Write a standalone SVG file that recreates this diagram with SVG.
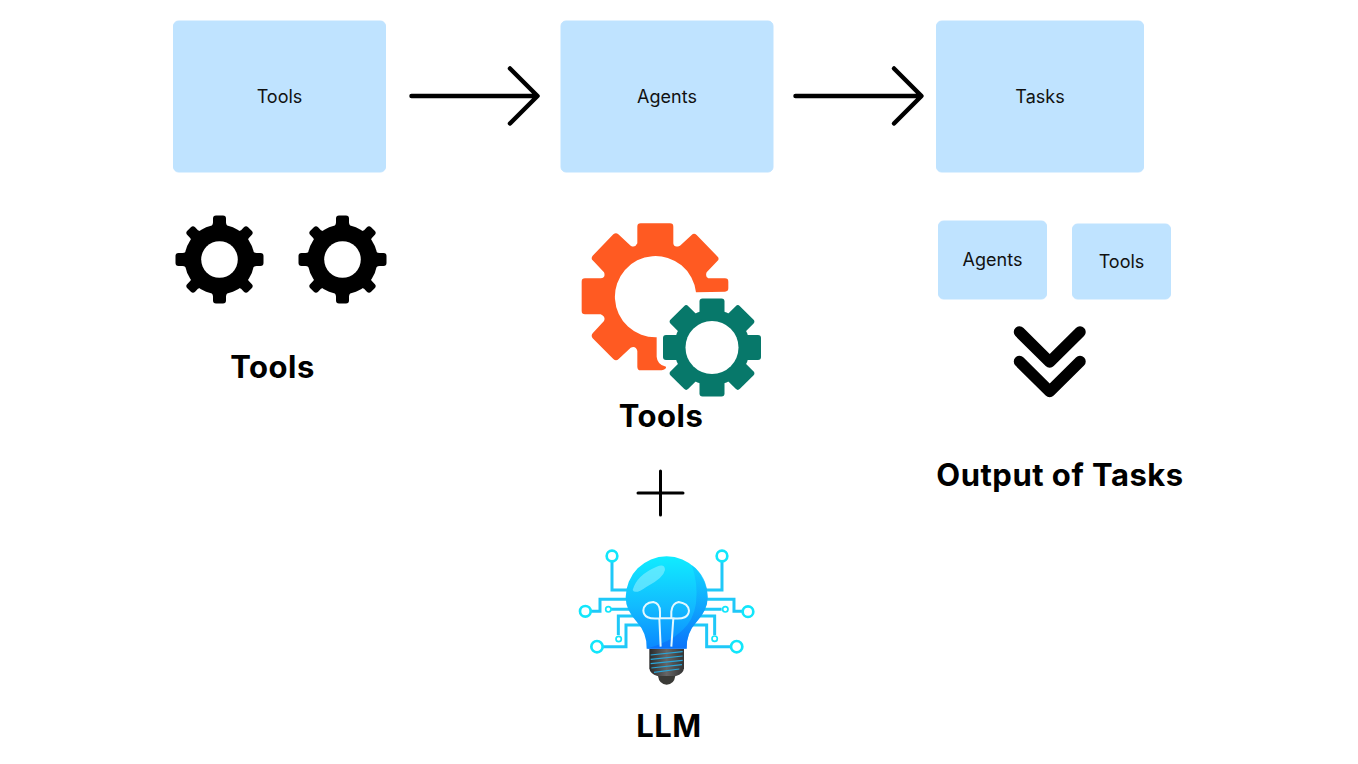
<svg xmlns="http://www.w3.org/2000/svg" xmlns:xlink="http://www.w3.org/1999/xlink" width="1358" height="764" viewBox="0 0 1358 764">
<style>
.box{fill:#bfe3ff;stroke:#bfe3ff;stroke-width:1}
.lbl{font-family:"Inter","Liberation Sans",sans-serif;font-size:18px;fill:#111;text-anchor:middle}
.hd{font-family:"Inter","Liberation Sans",sans-serif;font-size:31px;font-weight:700;letter-spacing:.5px;fill:#000;text-anchor:middle}
.arrow{fill:none;stroke:#000;stroke-width:4.5;stroke-linecap:round;stroke-linejoin:round}
.chev{fill:none;stroke:#000;stroke-width:11.5;stroke-linecap:round;stroke-linejoin:round}
.wire{fill:none;stroke:#1fc8f8;stroke-width:9}
.node{fill:#fff;stroke:#12e6fb;stroke-width:8}
.nodes{fill:#fff;stroke:#12e6fb;stroke-width:5}
</style>
<defs>
<linearGradient id="bulb" x1="0" y1="0" x2="0" y2="1"><stop offset="0" stop-color="#10ecff"/><stop offset="0.55" stop-color="#12baff"/><stop offset="1" stop-color="#0a88ff"/></linearGradient>
<linearGradient id="bulbD" x1="0" y1="0" x2="0" y2="1"><stop offset="0" stop-color="#10c8ff"/><stop offset="1" stop-color="#0a66f8"/></linearGradient>
<linearGradient id="base" x1="0" y1="0" x2="1" y2="0"><stop offset="0" stop-color="#2a2a2a"/><stop offset="0.5" stop-color="#666"/><stop offset="1" stop-color="#333"/></linearGradient>
<path id="tooth" d="M-11 -30Q-6.500 -34 -6.500 -37V-41Q-6.500 -44 -3.500 -44H3.500Q6.500 -44 6.500 -41V-37Q6.500 -34 11 -30Z" fill="#000"/>
<path id="toothD" d="M-10 -30Q-5.500 -34 -5.500 -36V-40Q-5.500 -43 -2.500 -43H2.500Q5.500 -43 5.500 -40V-36Q5.500 -34 10 -30Z" fill="#000"/>
<g id="blackgear">
<circle r="35" fill="#000"/>
<use xlink:href="#tooth" href="#tooth"/><use xlink:href="#tooth" href="#tooth" transform="rotate(90)"/><use xlink:href="#tooth" href="#tooth" transform="rotate(180)"/><use xlink:href="#tooth" href="#tooth" transform="rotate(270)"/>
<use xlink:href="#toothD" href="#toothD" transform="rotate(45)"/><use xlink:href="#toothD" href="#toothD" transform="rotate(135)"/><use xlink:href="#toothD" href="#toothD" transform="rotate(225)"/><use xlink:href="#toothD" href="#toothD" transform="rotate(315)"/>
<circle r="18.300" fill="#fff"/>
</g>
<g id="g4"><rect x="-12.500" y="-49" width="25" height="30" rx="3" fill="#07786a"/><rect x="-12.500" y="19" width="25" height="30" rx="3" fill="#07786a"/><rect x="-49" y="-12.500" width="30" height="25" rx="3" fill="#07786a"/><rect x="19" y="-12.500" width="30" height="25" rx="3" fill="#07786a"/></g>
</defs>

<g id="connectors">
<path class="arrow" d="M411.500 96H536M510 68.500L537.500 96L510 123.500"/>
<path class="arrow" d="M795.500 96H920M894 68.500L921.500 96L894 123.500"/>
</g>

<g id="node-tools"><rect class="box" x="173.500" y="21" width="212" height="151" rx="5"/><text class="lbl" x="279.500" y="103">Tools</text></g>
<g id="node-agents"><rect class="box" x="561" y="21" width="212" height="151" rx="5"/><text class="lbl" x="667" y="103">Agents</text></g>
<g id="node-tasks"><rect class="box" x="936.500" y="21" width="207" height="151" rx="5"/><text class="lbl" x="1040" y="103">Tasks</text></g>

<g id="tools-icons">
<use xlink:href="#blackgear" href="#blackgear" x="219.500" y="259.500"/>
<use xlink:href="#blackgear" href="#blackgear" x="342.500" y="259.500"/>
<text class="hd" x="272.500" y="377.500">Tools</text>
</g>

<g id="agent-gears">
<path transform="translate(570 215) scale(.3333)" fill="#ff5a22" d="M465 230Q475 230 475 220L475 200Q475 190 465 190L415 190Q405 185 410 172L445 135Q447 128 443 125L380 60Q372 53 365 60L330 92Q312 100 310 85L310 35Q310 25 300 25L212 25Q202 25 202 35L202 85Q195 100 182 92L145 58Q138 52 130 58L68 122Q62 130 68 136L102 172Q108 188 92 190L45 190Q35 190 35 200L35 288Q35 298 45 298L92 298Q108 305 102 318L68 355Q62 362 68 370L130 432Q138 440 146 432L182 398Q198 392 202 408L202 455Q202 466 212 466L275 466Q290 462 288 455Q262 450 260 425L260 367A122 122 0 1 1 378 232Z"/>
<g transform="translate(712 347.500)">
<circle r="38" fill="#07786a"/>
<use xlink:href="#g4" href="#g4"/>
<use xlink:href="#g4" href="#g4" transform="rotate(45)"/>
<circle r="26.500" fill="#fff"/>
</g>
<text class="hd" x="661" y="426.500">Tools</text>
</g>

<g id="plus"><path d="M638 493H683M660.500 471V515" fill="none" stroke="#000" stroke-width="3" stroke-linecap="round"/></g>

<g id="llm">
<g transform="translate(570 540) scale(.3333)">
<g class="wire">
<path d="M126 65V150H200M60 214H90V178H200M122 208H200M145 285V228H200M80 320H168V255H240"/>
<path d="M456 65V150H380M516 214H492V178H380M455 208H380M434 285V228H380M484 320H410V255H340"/>
</g>
<g class="node">
<circle cx="126" cy="48" r="16"/><circle cx="46" cy="214" r="16"/><circle cx="81" cy="320" r="17"/>
<circle cx="456" cy="48" r="16"/><circle cx="534" cy="215" r="16"/><circle cx="500" cy="320" r="17"/>
</g>
<g class="nodes">
<circle cx="115" cy="208" r="8"/><circle cx="146" cy="297" r="8"/><circle cx="466" cy="208" r="8"/><circle cx="434" cy="296" r="8"/>
</g>
<path d="M238 326H342V385Q340 402 318 408H262Q240 402 238 385Z" fill="url(#base)"/>
<path d="M242 345L338 335M242 358L338 348M242 371L338 361M244 384L336 374M252 397L328 387" stroke="#2aa5d8" stroke-width="3.500" fill="none"/>
<path d="M264 408H316Q312 434 290 434Q268 434 264 408Z" fill="#3a3a36"/>
<path d="M230 326Q232 280 200 245Q167 210 167 172A123 123 0 0 1 413 172Q413 210 380 245Q348 280 350 326Z" fill="url(#bulb)"/>
<path d="M350 326Q348 280 380 245Q413 210 413 172Q413 110 365 75Q385 130 378 190Q365 290 230 326Z" fill="url(#bulbD)" opacity=".6"/>
<path d="M188 150Q200 105 260 80Q285 70 285 90Q280 115 230 140Q195 165 188 150Z" fill="#8cf0ff" opacity=".6"/>
<path d="M272 320L268 235Q222 240 220 212Q222 188 250 186Q270 190 270 215V235H304V215Q306 190 326 186Q355 190 357 212Q355 240 310 235L304 320" fill="none" stroke="#e2f8ff" stroke-width="6"/>
</g>
<text class="hd" x="669" y="736.500">LLM</text>
</g>

<g id="output">
<g id="sub-agents"><rect class="box" x="938.500" y="221" width="108" height="78" rx="5"/><text class="lbl" x="992.500" y="266">Agents</text></g>
<g id="sub-tools"><rect class="box" x="1072.500" y="224" width="98" height="75" rx="5"/><text class="lbl" x="1121.500" y="268">Tools</text></g>
<path class="chev" d="M1019.500 332L1049.700 362L1080 332"/>
<path class="chev" d="M1019.500 361.500L1049.700 391.500L1080 361.500"/>
<text class="hd" x="1060" y="485.500">Output of Tasks</text>
</g>
</svg>
